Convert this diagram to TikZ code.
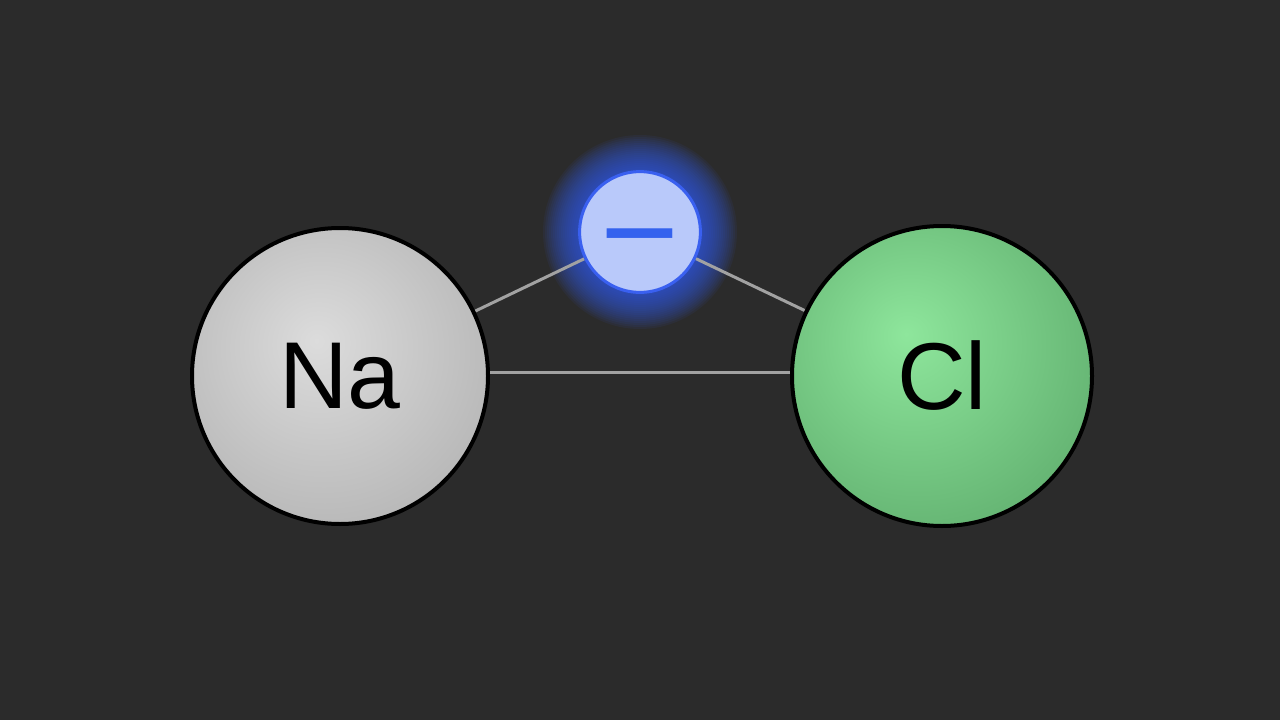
\documentclass[tikz,border=0pt]{standalone}
\usepackage{fontspec}
\setmainfont{Liberation Sans}
\usetikzlibrary{backgrounds}
\definecolor{bg}{HTML}{2B2B2B}
\definecolor{naC}{HTML}{DCDCDC}
\definecolor{naE}{HTML}{A0A0A0}
\definecolor{clC}{HTML}{8EE69C}
\definecolor{clE}{HTML}{4C965A}
\definecolor{lineC}{HTML}{A2A2A2}
\definecolor{eFill}{HTML}{B9C9FA}
\definecolor{eEdge}{HTML}{3A60F0}
\definecolor{eMinus}{HTML}{3462EE}
\definecolor{glowA}{HTML}{3A5EF0}
\pgfdeclareradialshading{naball}{\pgfpoint{-4bp}{6bp}}{color(0bp)=(naC);color(50bp)=(naE);color(75bp)=(naE)}
\pgfdeclareradialshading{clball}{\pgfpoint{-6bp}{7bp}}{color(0bp)=(clC);color(50bp)=(clE);color(75bp)=(clE)}
\begin{document}
\begin{tikzpicture}[x=1pt,y=-1pt,
  atom/.style={circle,draw=black,line width=4pt,inner sep=0pt,minimum size=296pt,
    font=\fontsize{95}{95}\selectfont,text=black},
  electron/.style={circle,fill=eFill,draw=eEdge,line width=3pt,inner sep=0pt,minimum size=120pt,
    font=\fontsize{135}{135}\selectfont,text=eMinus,text height=92pt,text depth=0pt},
  glowring/.style={fill=glowA,opacity=0.065},
  conn/.style={draw=lineC,line width=3pt}]
\useasboundingbox (0,0) rectangle (1280,720);
\node[atom,shading=naball] (na) at (340,376) {Na};
\node[atom,shading=clball,minimum size=300pt] (cl) at (942,376) {Cl};
\node[electron] (e) at (640,232) {−};
\begin{scope}[on background layer]
  \fill[bg] (0,0) rectangle (1280,720);
  \foreach \r in {61,63,...,97} {\fill[glowring] (e.center) circle[radius=\r];}
  \draw[conn] (na) -- (e);
  \draw[conn] (e) -- (cl);
  \draw[conn] ([yshift=4pt]na.east) -- ([yshift=4pt]cl.west);
\end{scope}
\end{tikzpicture}
\end{document}
